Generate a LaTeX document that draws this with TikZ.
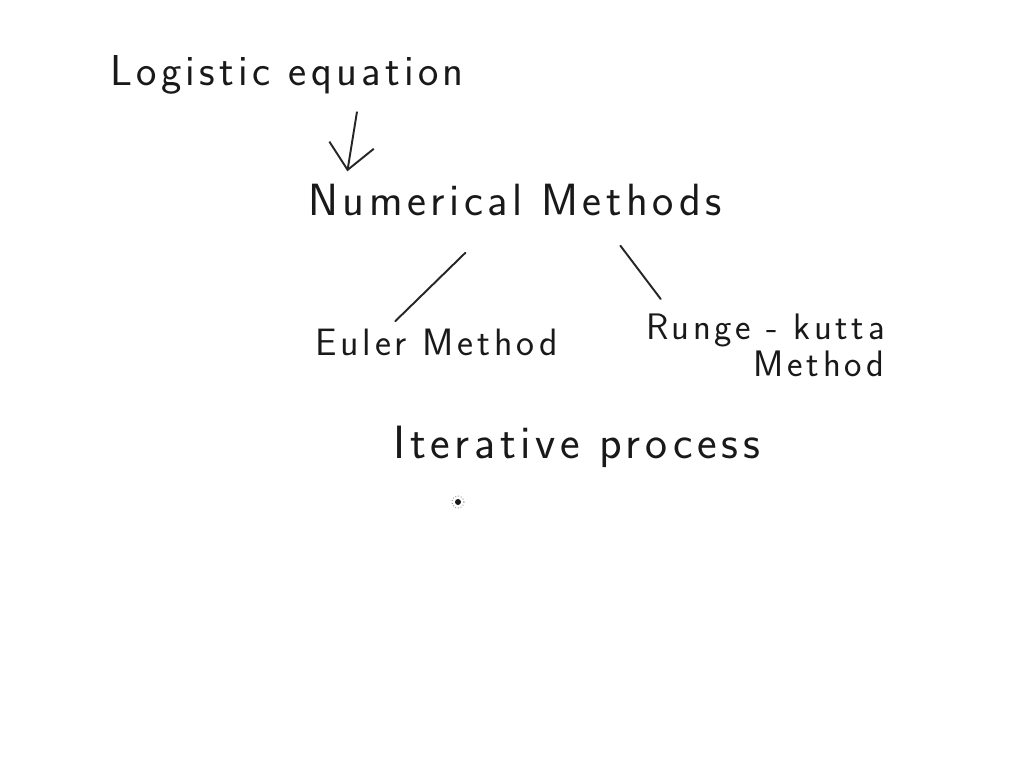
\documentclass[tikz,border=0pt]{standalone}
\usepackage{fontspec}
\usepackage{tikz}
\usetikzlibrary{arrows.meta,calc}

\newfontfamily\handsans[LetterSpace=10]{Latin Modern Sans}
\newcommand{\handfont}[1]{\handsans\fontsize{#1}{#1}\selectfont}

\begin{document}
\begin{tikzpicture}[x=0.02cm,y=-0.02cm]
		% Define styles for the handwritten look
		\tikzset{hand/.style={inner sep=0pt, text=black!90},
			pen/.style={line width=1.1pt, black!85, line cap=round},
			penarrow/.style={pen, -{Straight Barb[length=5mm,width=9mm,line width=1.1pt]}}}
		
		% Fix the page to the reference size
		\useasboundingbox (0,0) rectangle (1024,768);
		
		% Place the labels
		\node (logistic) at (110,85) [hand, anchor=base west, font=\handfont{24.6}] {Logistic equation};
		\node (numerical) at (308,215) [hand, anchor=base west, font=\handfont{25.7}] {Numerical Methods};
		\node (euler) at (315,355) [hand, anchor=base west, font=\handfont{21.7}] {Euler Method};
		\node (runge) at (885,314) [hand, anchor=north east, align=right, font=\handfont{21}] {Runge - kutta\\[0pt] Method};
		\node (iterative) at (393,458) [hand, anchor=base west, font=\handfont{26.6}] {Iterative process};
		
		% Draw the arrow down to the methods
		\draw[penarrow] ([shift={(0,18)}]$(logistic.south west)!0.697!(logistic.south east)$)
			-- ([shift={(0,-12)}]$(numerical.north west)!0.095!(numerical.north east)$);
		
		% Draw the two branches
		\draw[pen] ([shift={(0,37)}]$(numerical.south west)!0.38!(numerical.south east)$)
			-- ([shift={(0,-7)}]$(euler.north west)!0.33!(euler.north east)$);
		\draw[pen] ([shift={(0,30)}]$(numerical.south west)!0.754!(numerical.south east)$)
			-- ([shift={(0,-15)}]$(runge.north west)!0.06!(runge.north east)$);
		
		% Small pen mark
		\coordinate (cursor) at (458,502);
		\draw[black!35, densely dotted, line width=0.6pt] (cursor) circle[radius=6];
		\fill[black!90] (cursor) circle[radius=3];
	\end{tikzpicture}
\end{document}
